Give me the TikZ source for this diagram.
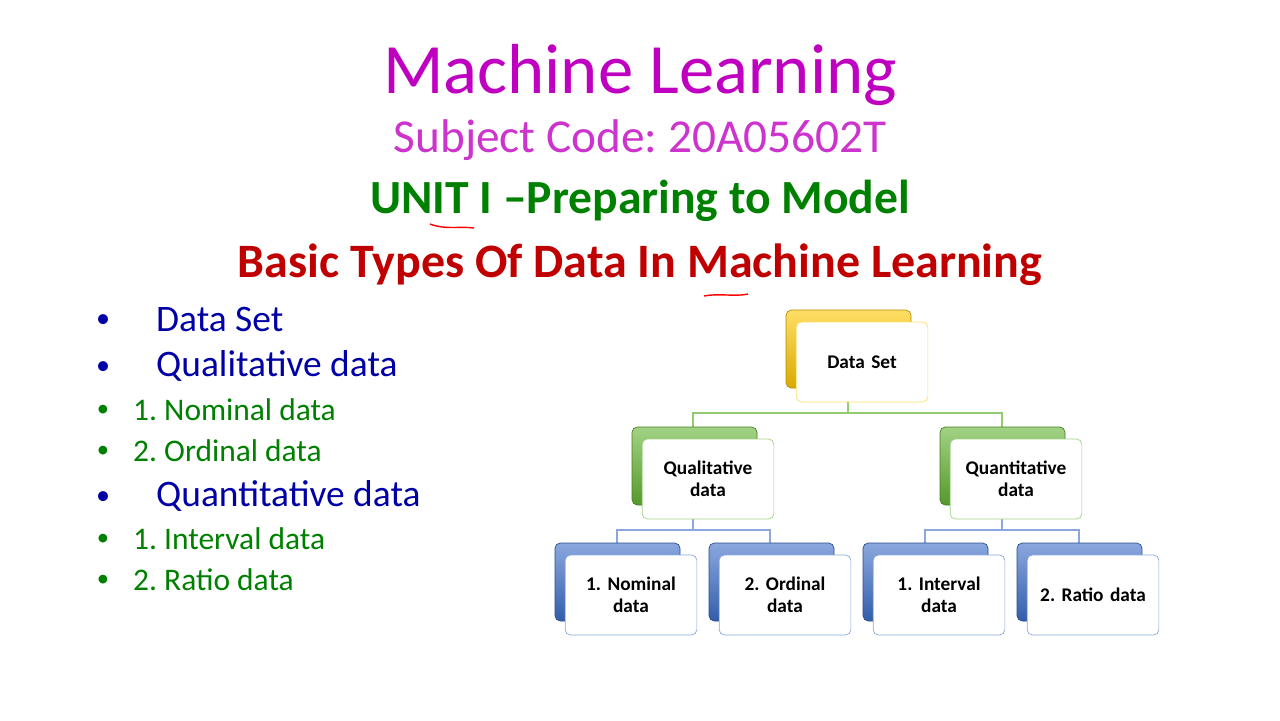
\documentclass[tikz,border=0pt]{standalone}
\usepackage{fontspec}
\setmainfont{Carlito}
\begin{document}
\frenchspacing
\begin{tikzpicture}[x=0.02cm,y=-0.02cm,
  back/.style={rounded corners=3pt,draw=#1!70!black,top color=#1!60!white,bottom color=#1!85!black},
  front/.style={rounded corners=3pt,draw=#1!60!white,fill=white,align=center,font=\fontsize{11pt}{12.5pt}\selectfont\bfseries},
  conn/.style={draw=#1,line width=0.8pt},
  blt/.style={anchor=west,text=blue!65!black,font=\fontsize{21.3pt}{24pt}\selectfont},
  gblt/.style={anchor=west,text=green!50!black,font=\fontsize{17.9pt}{20pt}\selectfont}]
\useasboundingbox (0,0) rectangle (1280,720);
\definecolor{ttl}{RGB}{192,0,192}
\definecolor{dgreen}{RGB}{0,128,0}
\definecolor{dred}{RGB}{192,0,0}
\definecolor{yel}{RGB}{255,200,0}
\definecolor{grn}{RGB}{100,180,50}
\definecolor{blu}{RGB}{60,110,200}
\node (t1) at (640,75) {\fontsize{40.3pt}{43pt}\selectfont\textcolor{ttl}{Machine Learning}};
\node (t2) at (640,140) {\fontsize{26.9pt}{30pt}\selectfont\textcolor{ttl!80!white}{Subject Code: 20A05602T}};
\node (t3) at (640,201) {\fontsize{27.1pt}{30pt}\selectfont\bfseries\textcolor{dgreen}{UNIT I –Preparing to Model}};
\node (t4) at (640,265) {\fontsize{27.3pt}{30pt}\selectfont\bfseries\textcolor{dred}{Basic Types Of Data In Machine Learning}};
\draw[red,thick] (430,224) .. controls (445,230) and (460,226) .. (474,228);
\draw[red,thick] (704,296) .. controls (720,293) and (735,297) .. (748,294);
% bullets
\foreach \y/\t in {319/Data Set,366/Qualitative data,496/Quantitative data}{
  \node[text=blue!65!black] at (103,\y+2) {\fontsize{16pt}{16pt}\selectfont•};
  \node[blt] at (150,\y) {\t};}
\foreach \y/\t in {410/1. Nominal data,451/2. Ordinal data,539/1. Interval data,580/2. Ratio data}{
  \node[text=green!50!black] at (103,\y+1) {\fontsize{14pt}{14pt}\selectfont•};
  \node[gblt] at (127,\y) {\t};}
% connectors
\coordinate (j1) at (848,413);
\draw[conn=grn!70!white] (848,402) -- (j1) (693,438) -- (693,413) -- (1002,413) -- (1002,438);
\draw[conn=blu!60!white] (693,518) -- (693,530) (617,543) -- (617,530) -- (770,530) -- (770,543);
\draw[conn=blu!60!white] (1002,518) -- (1002,530) (925,543) -- (925,530) -- (1079,530) -- (1079,543);
% boxes
\newcommand{\dbox}[6]{%
  \path[back=#6] (#1,#2) rectangle ++(125,78);
  \node[front=#6,minimum width=2.52cm,minimum height=1.6cm,text width=2.4cm] (#4) at (#1+76,#2+52) {#5};}
\dbox{786}{310}{}{ds}{Data Set}{yel}
\dbox{632}{427}{}{ql}{Qualitative\\data}{grn}
\dbox{940}{427}{}{qn}{Quantitative\\data}{grn}
\dbox{555}{543}{}{n1}{1. Nominal\\data}{blu}
\dbox{709}{543}{}{n2}{2. Ordinal\\data}{blu}
\dbox{863}{543}{}{n3}{1. Interval\\data}{blu}
\dbox{1017}{543}{}{n4}{2. Ratio data}{blu}
\end{tikzpicture}
\end{document}
